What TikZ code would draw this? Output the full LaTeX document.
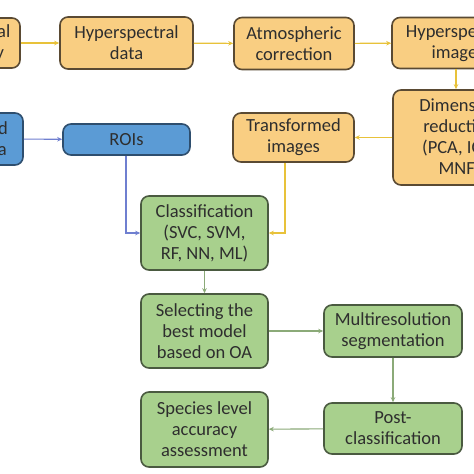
\documentclass[tikz,border=0pt]{standalone}
\usepackage{fontspec}
\setmainfont{Carlito}
\usetikzlibrary{arrows.meta}
\definecolor{ofill}{HTML}{F9CE82}
\definecolor{odraw}{HTML}{5A4A33}
\definecolor{oarr}{HTML}{E8C23A}
\definecolor{bfill}{HTML}{5B9BD5}
\definecolor{bdraw}{HTML}{2E4E6E}
\definecolor{barr}{HTML}{6F7FD0}
\definecolor{gfill}{HTML}{A8D08D}
\definecolor{gdraw}{HTML}{4A5A40}
\definecolor{garr}{HTML}{8BAA78}
\definecolor{txt}{HTML}{2E2E2E}
\begin{document}
\begin{tikzpicture}[x=1pt,y=-1pt,
  box/.style={rounded corners=8pt, line width=1.6pt, align=center, inner sep=2pt,
    font=\fontsize{18.5}{21}\selectfont, text=txt},
  obox/.style={box, fill=ofill, draw=odraw},
  bbox/.style={box, fill=bfill, draw=bdraw},
  gbox/.style={box, fill=gfill, draw=gdraw},
  conn/.style={line width=1.1pt, -{Stealth[length=5pt,width=4.5pt]}},
  oarrow/.style={conn, draw=oarr},
  barrow/.style={conn, draw=barr},
  garrow/.style={conn, draw=garr}]
\useasboundingbox (0,0) rectangle (474,474);
\clip (0,0) rectangle (474,474);
\fill[white] (0,0) rectangle (474,474);

% orange row
\node[obox, minimum width=80pt, minimum height=50pt] (SL0) at (-20,43) {Spectral\\library};
\node[obox, minimum width=133pt, minimum height=52pt] (HD) at (126.5,43) {Hyperspectral\\data};
\node[obox, minimum width=120pt, minimum height=52pt] (AC) at (294,43.5) {Atmospheric\\correction};
\node[obox, minimum width=132pt, minimum height=51pt] (HI) at (458,43) {Hyperspectral\\images};
\node[obox, minimum width=133pt, minimum height=95pt] (DR) at (459.5,137.5) {Dimension\\reduction\\(PCA, ICA,\\MNF)};
\node[obox, minimum width=121pt, minimum height=49pt] (TI) at (293.5,137.5) {Transformed\\images};

% blue
\node[bbox, minimum width=66pt, minimum height=52pt] (FD) at (-10,139) {Field\\data};
\node[bbox, minimum width=127pt, minimum height=31pt] (ROI) at (126.5,139.5) {ROIs};

% green
\node[gbox, minimum width=127pt, minimum height=74pt] (CL) at (204.5,233) {Classification\\(SVC, SVM,\\RF, NN, ML)};
\node[gbox, minimum width=127pt, minimum height=74pt] (SB) at (204.5,331) {Selecting the\\best model\\based on OA};
\node[gbox, minimum width=138pt, minimum height=52pt] (MS) at (393,331) {Multiresolution\\segmentation};
\node[gbox, minimum width=138pt, minimum height=51pt] (PC) at (393,428.5) {Post-\\classification};
\node[gbox, minimum width=127pt, minimum height=75pt] (SP) at (204.5,429.5) {Species level\\accuracy\\assessment};

% helper coordinates
\coordinate (hx) at (456,0);
\coordinate (tx) at (285,0);
\coordinate (rx) at (126,0);

% connectors
\draw[oarrow] (SL0) -- (HD);
\draw[oarrow] (HD) -- (AC);
\draw[oarrow] (AC) -- (HI);
\draw[oarrow] (HI.south -| hx) -- (DR.north -| hx);
\draw[oarrow] (DR) -- (TI);
\draw[oarrow] (TI.south -| tx) |- (CL.east);
\draw[barrow] (FD) -- (ROI);
\draw[barrow] (ROI.south -| rx) |- (CL.west);
\draw[garrow] (CL) -- (SB);
\draw[garrow] (SB) -- (MS);
\draw[garrow] (MS) -- (PC);
\draw[garrow] (PC) -- (SP);
\end{tikzpicture}
\end{document}
